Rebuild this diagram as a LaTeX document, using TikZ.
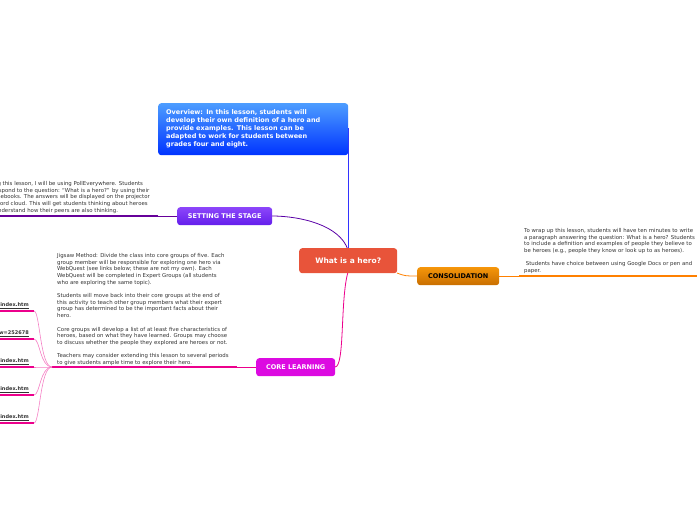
\documentclass[tikz,border=0pt]{standalone}
\usepackage{fontspec}
\setmainfont{DejaVu Sans}
\begin{document}
\begin{tikzpicture}[x=1pt,y=-1pt,
 topic/.style={rounded corners=3pt,text=white,font=\fontsize{6.5}{8}\selectfont\bfseries,inner sep=0pt,anchor=north west},
 note/.style={anchor=north west,align=left,text=black!80,font=\fontsize{5.4}{6.7}\selectfont,inner sep=0pt},
 lnk/.style={anchor=south east,text=black!80,font=\fontsize{5}{6}\selectfont\bfseries,inner sep=1pt}]
\useasboundingbox (0,0) rectangle (697,520);
\clip (0,0) rectangle (697,520);
% connectors
\draw[blue!80!white,line width=0.8pt] (348,250) -- (348,128);
\draw[violet!70!blue,line width=0.8pt] (348,250) .. controls (340,225) and (300,216) .. (272,216);
\draw[magenta,line width=0.8pt] (348,272) .. controls (340,300) and (345,367) .. (335,367);
\draw[orange,line width=0.8pt] (397,273) .. controls (405,276) .. (417,276);
\draw[violet!80!blue,line width=0.6pt] (177,216) -- (0,216);
\draw[violet!80!blue,line width=1.6pt] (158,215.5) -- (0,215.5);
\draw[magenta,line width=0.6pt] (256,367) -- (52,367);
\draw[magenta,line width=1.8pt] (237,367) -- (52,367);
\draw[orange,line width=0.6pt] (499,276) -- (519,276);
\draw[orange,line width=1.8pt] (519,276) -- (697,276);
% link branches
\foreach \yy/\t in {311/index.htm,339/w=252678,367/index.htm,395/index.htm,423/index.htm}{
  \draw[magenta!50,line width=0.6pt] (52,367) .. controls (40,367) and (40,\yy) .. (34,\yy);
  \draw[magenta,line width=1.6pt] (34,\yy) -- (0,\yy);
  \node[lnk] at (30,\yy-1) {\underline{\t}};
}
% boxes
\node[topic,top color=blue!55!cyan!70!white,bottom color=blue!80!cyan,minimum width=190pt,minimum height=52pt,text width=174pt,align=left,inner xsep=8pt] (ov) at (158,103) {Overview: In this lesson, students will\\develop their own definition of a hero and\\provide examples. This lesson can be\\adapted to work for students between\\grades four and eight.};
\node[topic,fill={rgb,255:red,232;green,84;blue,58},minimum width=98pt,minimum height=25pt,align=center,font=\fontsize{7.5}{9}\selectfont\bfseries] (c) at (299,248) {What is a hero?};
\node[topic,top color={rgb,255:red,140;green,70;blue,250},bottom color={rgb,255:red,100;green,30;blue,235},minimum width=95pt,minimum height=18pt,align=center] (s) at (177,207) {SETTING THE STAGE};
\node[topic,fill={rgb,255:red,220;green,10;blue,225},minimum width=79pt,minimum height=18pt,align=center] (cl) at (256,358) {CORE LEARNING};
\node[topic,top color={rgb,255:red,245;green,150;blue,10},bottom color={rgb,255:red,200;green,110;blue,0},minimum width=82pt,minimum height=18pt,align=center,text=black] (co) at (417,267) {CONSOLIDATION};
% notes
\node[note,anchor=north east] (n1) at (150,181) {During this lesson, I will be using PollEverywhere. Students\\will respond to the question: ``What is a hero?'' by using their\\Chromebooks. The answers will be displayed on the projector\\as a word cloud. This will get students thinking about heroes\\and understand how their peers are also thinking.};
\node[note] (n2) at (57,253) {Jigsaw Method: Divide the class into core groups of five. Each\\group member will be responsible for exploring one hero via\\WebQuest (see links below; these are not my own). Each\\WebQuest will be completed in Expert Groups (all students\\who are exploring the same topic).\\[6.7pt]
Students will move back into their core groups at the end of\\this activity to teach other group members what their expert\\group has determined to be the important facts about their\\hero.\\[6.7pt]
Core groups will develop a list of at least five characteristics of\\heroes, based on what they have learned. Groups may choose\\to discuss whether the people they explored are heroes or not.\\[6.7pt]
Teachers may consider extending this lesson to several periods\\to give students ample time to explore their hero.};
\node[note] (n3) at (524,228) {To wrap up this lesson, students will have ten minutes to write\\a paragraph answering the question: What is a hero? Students\\to include a definition and examples of people they believe to\\be heroes (e.g., people they know or look up to as heroes).\\[6.7pt]
\ Students have choice between using Google Docs or pen and\\paper.};
\end{tikzpicture}
\end{document}
